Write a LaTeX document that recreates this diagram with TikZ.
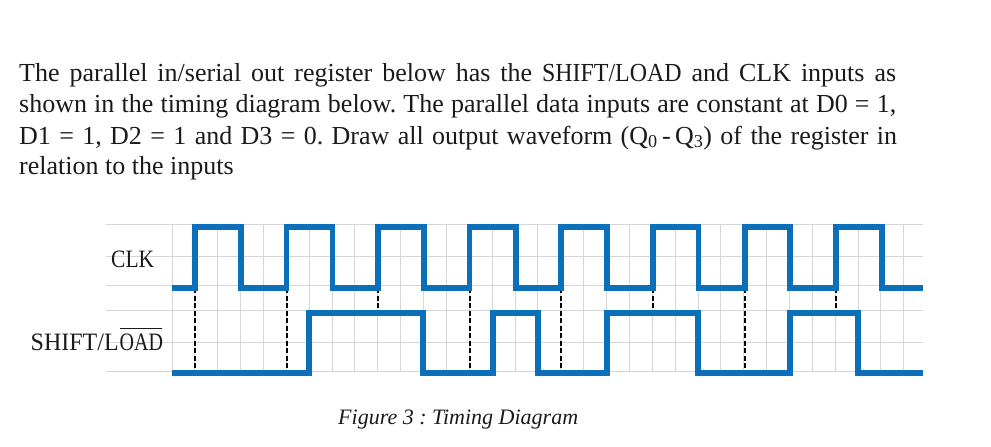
\documentclass[tikz,border=0pt]{standalone}
\usepackage{graphicx}
\usepackage{fontspec}
\setmainfont{Liberation Serif}
\frenchspacing
\definecolor{wave}{HTML}{0B6FBA}
\definecolor{gridc}{HTML}{D6D6D6}
\definecolor{ink}{HTML}{1A1A1A}
\tikzset{
  gridline/.style={draw=gridc,line width=1pt},
  waveline/.style={draw=wave,line width=5.7pt,line join=miter},
  dashline/.style={draw=black,line width=1.7pt,dash pattern=on 5pt off 2.5pt},
  para/.style={anchor=base west,inner sep=0pt,text=ink,font=\fontsize{26}{26}\selectfont},
  siglabel/.style={anchor=base west,inner sep=0pt,text=ink,font=\fontsize{25}{25}\selectfont}
}
\begin{document}
\begin{tikzpicture}[x=1pt,y=-1pt]
\useasboundingbox (0,0) rectangle (991,447);
% text
\node[para] (t1) at (19,81.5) {\makebox[877pt][s]{The parallel in/serial out register below has the \scalebox{0.92}[1]{SHIFT/LOAD} and CLK inputs as}};
\node[para] (t2) at (19,112.5) {\makebox[877pt][s]{shown in the timing diagram below. The parallel data inputs are constant at D0 = 1,}};
\node[para] (t3) at (19,144) {\makebox[878pt][s]{D1 = 1, D2 = 1 and D3 = 0. Draw all output waveform (Q\textsubscript{0}\,-\,Q\textsubscript{3}) of the register in}};
\node[para] (t4) at (19,174.5) {relation to the inputs};
% grid
\foreach \y in {224.5,256.5,285.5,310,342.5,371}{\draw[gridline] (106,\y) -- (923,\y);}
\foreach \i in {0,...,32}{
  \draw[gridline] ({172+22.87*\i},224.5) -- ({172+22.87*\i},371);
}
% dashed
\foreach \x in {195,286.7,470,561,744.7}{\draw[dashline] (\x,288) -- (\x,373);}
\foreach \x in {378,653,836}{\draw[dashline] (\x,288) -- (\x,310);}
% waves
\draw[waveline] (172,288) -- (195,288)
  \foreach \r/\f in {195/241,286.6/332.4,378/424,469.5/516,561/606.8,652.8/698.5,744.7/790,835.8/881.7}{
    -- (\r,288) -- (\r,226.7) -- (\f,226.7) -- (\f,288)
  } -- (923,288);
\draw[waveline] (172,373.3) -- (309,373.3) -- (309,312.7) -- (423.3,312.7) -- (423.3,373.3)
  -- (492.7,373.3) -- (492.7,312.7) -- (537.7,312.7) -- (537.7,373.3)
  -- (606.7,373.3) -- (606.7,312.7) -- (698.3,312.7) -- (698.3,373.3)
  -- (790,373.3) -- (790,312.7) -- (858.3,312.7) -- (858.3,373.3) -- (923,373.3);
% labels
\node[siglabel] (clk) at (111,267) {\scalebox{0.86}[1]{CLK}};
\node[siglabel] (sl) at (30.5,350) {\scalebox{0.96}[1]{SHIFT/L}\kern1pt\rlap{\rule[21pt]{42pt}{0.8pt}}\scalebox{0.8}[1]{OAD}};
\node[anchor=base west,inner sep=0pt,text=ink,font=\fontsize{22}{22}\selectfont\itshape] (cap) at (338,424) {Figure 3 : Timing Diagram};
\end{tikzpicture}
\end{document}
